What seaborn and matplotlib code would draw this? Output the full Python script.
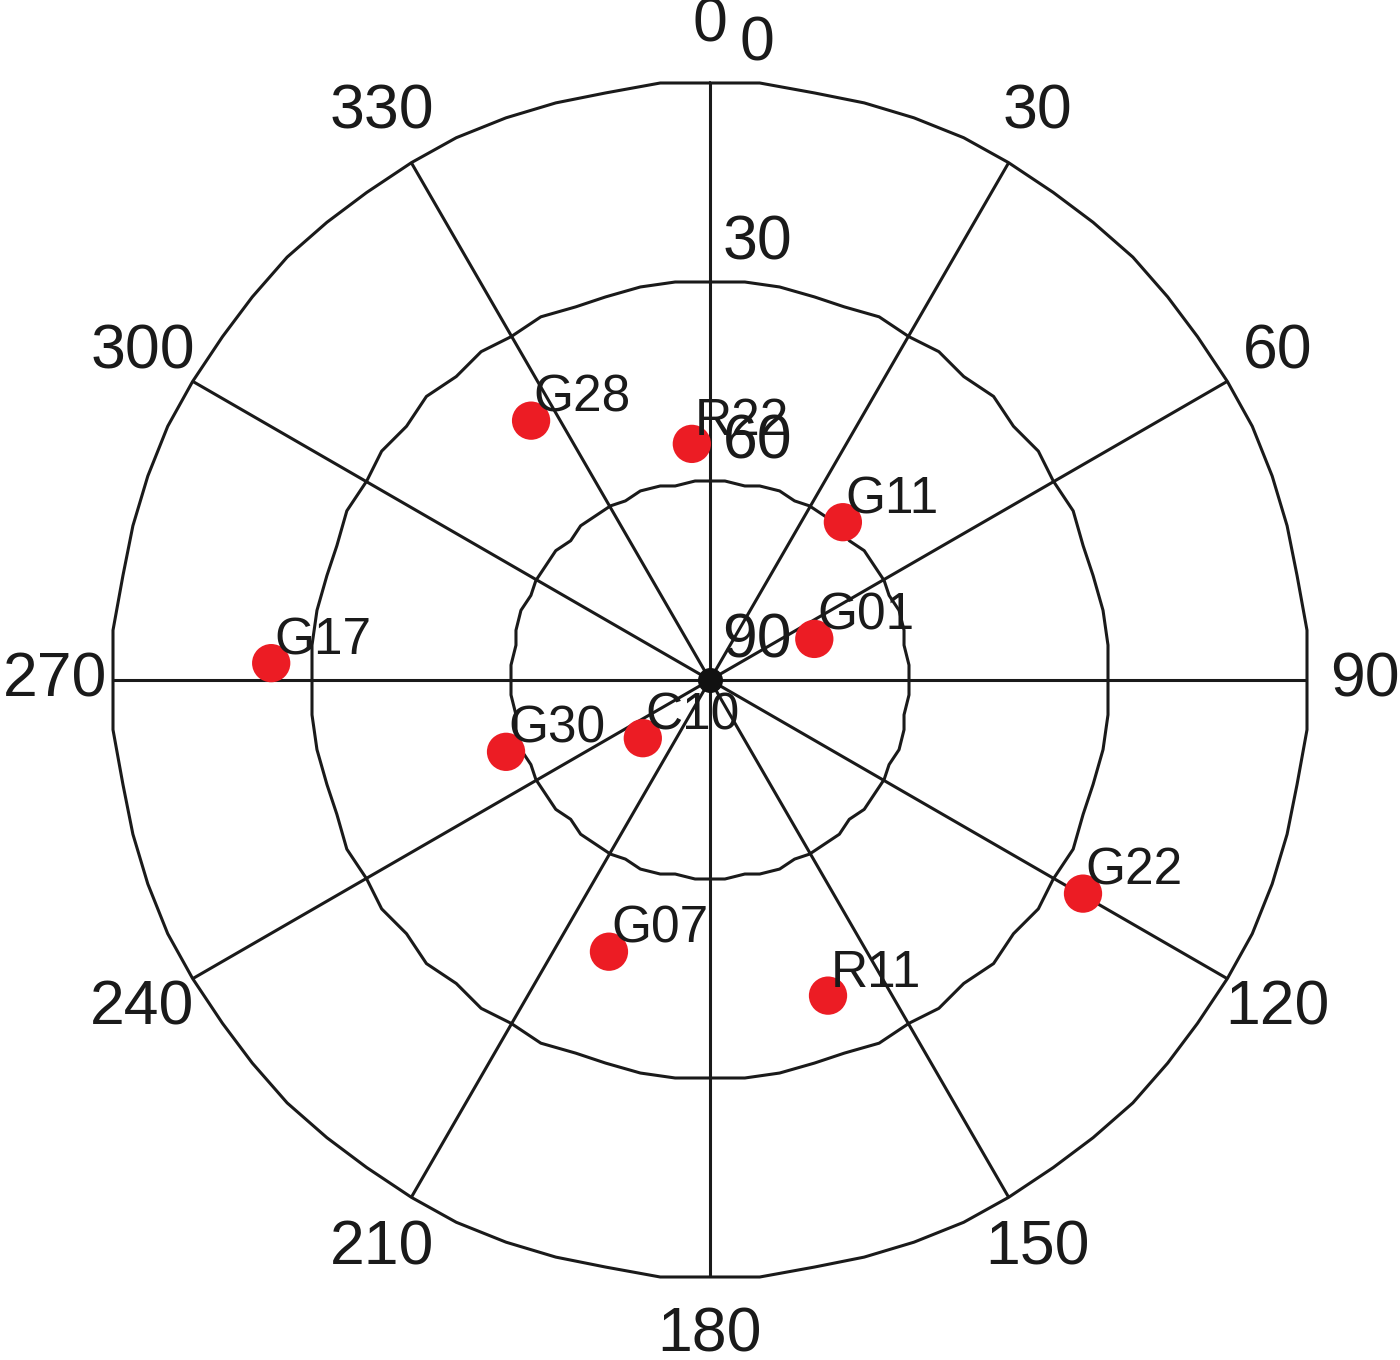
import numpy as np
import pandas as pd
import seaborn as sns
import matplotlib
matplotlib.use('Agg')
import matplotlib.pyplot as plt


# satellites seen in the sky: azimuth (deg, clockwise from north), elevation (deg)
sat_names = ['G28', 'R22', 'G11', 'G01', 'G17', 'G30', 'C10', 'G22', 'G07', 'R11']
sat_az = [325.4, 355.6, 40.1, 68.5, 272.2, 250.6, 229.1, 119.8, 200.4, 159.5]
sat_el = [42.5, 54.3, 58.9, 73.1, 23.8, 57.4, 76.6, 25.2, 46.3, 39.2]

# grid definition
az_ticks = [0, 30, 60, 90, 120, 150, 180, 210, 240, 270, 300, 330]
el_rings = [0, 30, 60]          # elevation of the circles
el_labels = [0, 30, 60, 90]     # elevation labels along north line

LW = 2.2
INK = '#1a1a1a'
RED = '#ec1c24'


def zen(el):
    ''' elevation -> radial distance (zenith angle) '''
    return 90.0 - np.asarray(el, dtype=float)


def rough_circle(r, step=5, grid=0.75):
    ''' circle drawn with coarse rounded vertices, like the old figure '''
    a = np.radians(np.arange(0, 360 + step, step))
    x = np.round(r * np.sin(a) / grid) * grid
    y = np.round(r * np.cos(a) / grid) * grid
    return np.arctan2(x, y), np.hypot(x, y)


df = pd.DataFrame({'name': sat_names,
                   'theta': np.radians(sat_az),
                   'r': zen(sat_el)})

sns.set_style('white')
plt.rcParams['font.family'] = ['Liberation Sans', 'DejaVu Sans']

fig = plt.figure(figsize=(14, 13.6), dpi=100)
ax = fig.add_axes([113 / 1400, 83 / 1360, 1194 / 1400, 1194 / 1360],
                  projection='polar')
ax.set_theta_zero_location('N')
ax.set_theta_direction(-1)
ax.set_ylim(0, 90)
ax.grid(False)
ax.spines['polar'].set_visible(False)
ax.set_xticks([])
ax.set_yticks([])

# radial spokes
for a in az_ticks:
    ax.plot([np.radians(a)] * 2, [0, 90], color=INK, lw=LW,
            solid_capstyle='butt', zorder=1, clip_on=False)

# elevation circles
for e in el_rings:
    th, rr = rough_circle(zen(e))
    ax.plot(th, rr, color=INK, lw=LW, zorder=1, clip_on=False)

# zenith dot
ax.plot([0], [0], 'o', color='#111111', ms=17, zorder=2)

# satellites
sns.scatterplot(data=df, x='theta', y='r', ax=ax, s=760, color=RED,
                edgecolor='none', linewidth=0, zorder=3, legend=False)
ax.set_xlabel('')
ax.set_ylabel('')

for _, row in df.iterrows():
    ax.annotate(row['name'], (row['theta'], row['r']),
                xytext=(2, 6.5), textcoords='offset points',
                ha='left', va='baseline', fontsize=37, color=INK,
                zorder=4)

# azimuth labels around the outside
for a in az_ticks:
    ax.text(np.radians(a), 98.8, str(a), ha='center', va='center',
            fontsize=45, color=INK, clip_on=False)

# elevation labels along the north spoke
for e in el_labels:
    ax.annotate(str(e), (0, zen(e)), xytext=(34, 28),
                textcoords='offset points', ha='center', va='center',
                fontsize=45, color=INK, annotation_clip=False)

fig.savefig('out.png', dpi=100, facecolor='white')
